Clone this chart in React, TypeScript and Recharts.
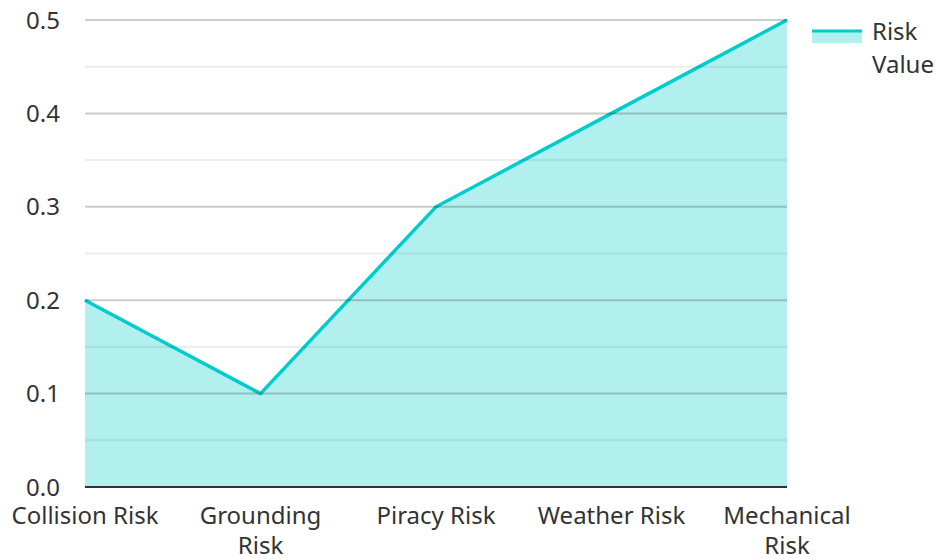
import { AreaChart, Area, XAxis, YAxis, ReferenceLine, Legend } from 'recharts';

const categories = ['Collision Risk', 'Grounding Risk', 'Piracy Risk', 'Weather Risk', 'Mechanical Risk'];
// how each category label wraps under the axis
const tickLines: Record<string, string[]> = {
  'Collision Risk': ['Collision Risk'],
  'Grounding Risk': ['Grounding', 'Risk'],
  'Piracy Risk': ['Piracy Risk'],
  'Weather Risk': ['Weather Risk'],
  'Mechanical Risk': ['Mechanical', 'Risk'],
};
const riskValues = [0.2, 0.1, 0.3, 0.4, 0.5];
const yTicks = [0, 0.1, 0.2, 0.3, 0.4, 0.5];
const minorLines = [0.05, 0.15, 0.25, 0.35, 0.45];

const data = categories.map((name, i) => ({ name, value: riskValues[i] }));

const TEAL = '#00cccc';
const FONT = '"Noto Sans", sans-serif';

function XTick(props: any) {
  const { x, y, payload } = props;
  const lines = tickLines[payload.value] || [payload.value];
  return (
    <text x={x} y={y} textAnchor="middle" fill="#333" fontSize={24} fontFamily={FONT}>
      {lines.map((ln, i) => (
        <tspan key={i} x={x} dy={i === 0 ? '0.71em' : 30}>
          {ln}
        </tspan>
      ))}
    </text>
  );
}

function LegendBox() {
  return (
    <div style={{ display: 'flex', alignItems: 'flex-start', fontFamily: FONT, fontSize: 24, color: '#333' }}>
      <svg width={50} height={14} style={{ marginTop: 15, marginRight: 10 }}>
        <rect x={0} y={1} width={50} height={13} fill={TEAL} fillOpacity={0.3} />
        <line x1={0} y1={2} x2={50} y2={2} stroke={TEAL} strokeWidth={3} />
      </svg>
      <div style={{ width: 70, lineHeight: '33px', textAlign: 'left' }}>Risk Value</div>
    </div>
  );
}

export default function App() {
  return (
    <div style={{ position: 'absolute', left: 0, top: 0, background: '#fff' }}>
      <AreaChart width={936} height={559} data={data} margin={{ top: 20, right: 19, left: 0, bottom: 42 }}>
        <XAxis
          dataKey="name"
          interval={0}
          tickLine={false}
          axisLine={{ stroke: '#333', strokeWidth: 2 }}
          tick={<XTick />}
          tickMargin={14}
        />
        <YAxis
          domain={[0, 0.5]}
          ticks={yTicks}
          width={85}
          axisLine={false}
          tickLine={false}
          tickMargin={19}
          tickFormatter={(v: number) => v.toFixed(1)}
          tick={{ fill: '#333', fontSize: 24, fontFamily: FONT }}
        />
        <Area
          type="linear"
          dataKey="value"
          name="Risk Value"
          stroke={TEAL}
          strokeWidth={3.5}
          fill={TEAL}
          fillOpacity={0.3}
          isAnimationActive={false}
        />
        {minorLines.map((v) => (
          <ReferenceLine key={`m${v}`} y={v} stroke="#000" strokeOpacity={0.07} strokeWidth={2} />
        ))}
        {yTicks.slice(1).map((v) => (
          <ReferenceLine key={`M${v}`} y={v} stroke="#000" strokeOpacity={0.2} strokeWidth={2} />
        ))}
        <Legend
          layout="vertical"
          align="right"
          verticalAlign="top"
          content={<LegendBox />}
          wrapperStyle={{ top: 14, right: -6, width: 130 }}
        />
      </AreaChart>
    </div>
  );
}
